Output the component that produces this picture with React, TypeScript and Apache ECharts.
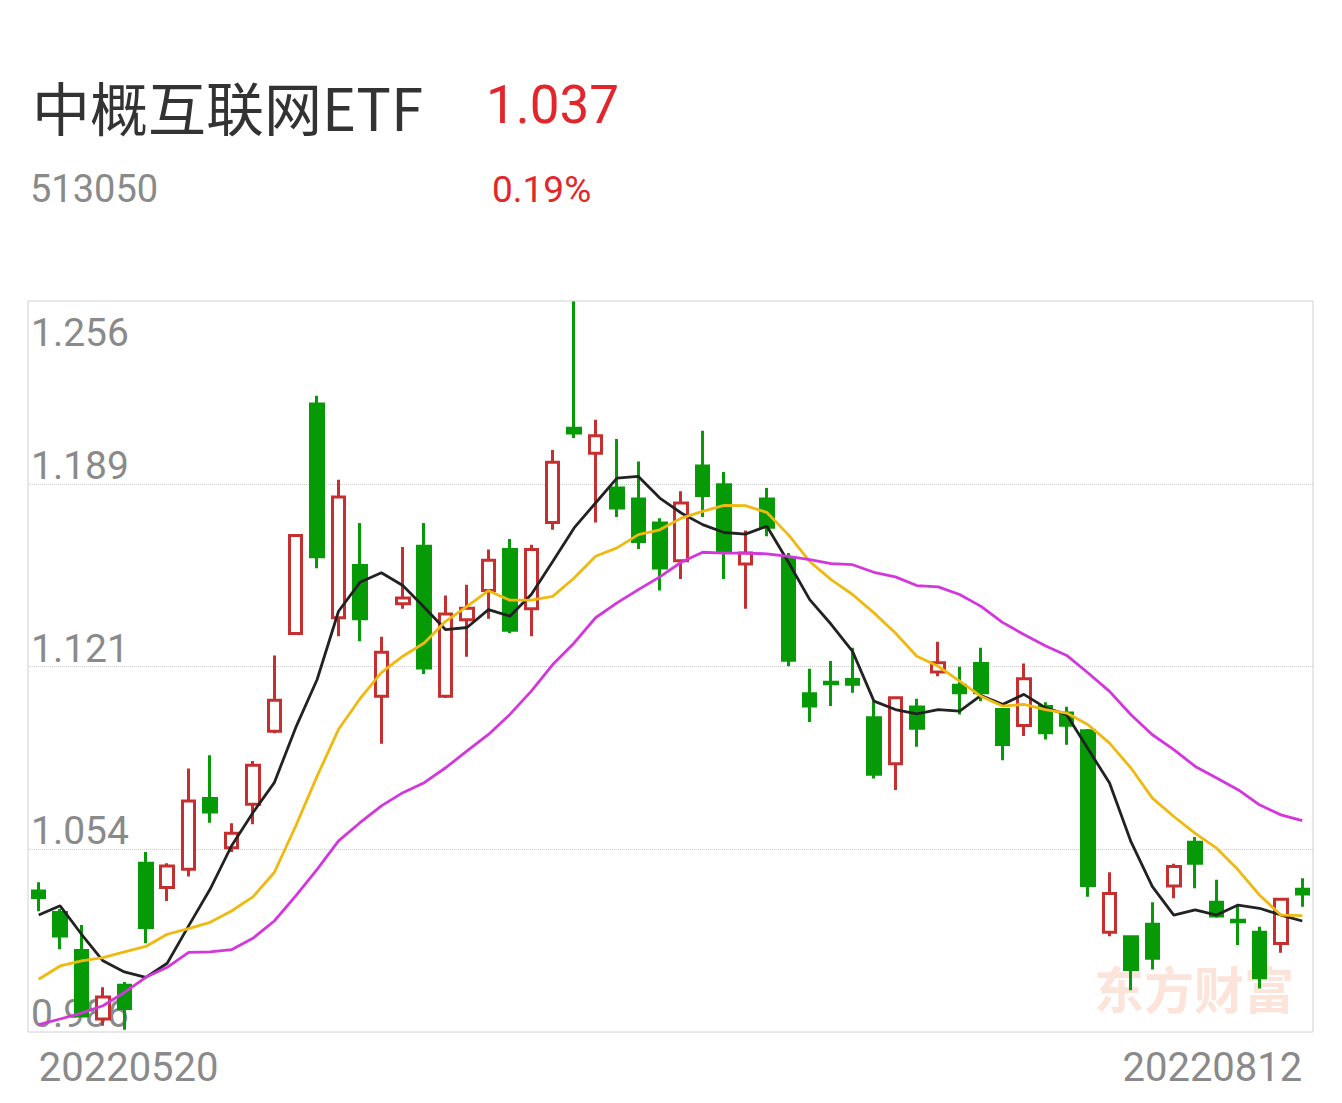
import React, { useEffect, useRef } from "react";
import * as echarts from "echarts";

const stockName = "中概互联网ETF";
const stockCode = "513050";
const lastPrice = "1.037";
const changePct = "0.19%";
const watermark = "东方财富";

const dates = [
  "20220520",
  "20220523", "20220524", "20220525", "20220526", "20220527",
  "20220530", "20220531",
  "20220601", "20220602",
  "20220606", "20220607", "20220608", "20220609", "20220610",
  "20220613", "20220614", "20220615", "20220616", "20220617",
  "20220620", "20220621", "20220622", "20220623", "20220624",
  "20220627", "20220628", "20220629", "20220630",
  "20220701",
  "20220704", "20220705", "20220706", "20220707", "20220708",
  "20220711", "20220712", "20220713", "20220714", "20220715",
  "20220718", "20220719", "20220720", "20220721", "20220722",
  "20220725", "20220726", "20220727", "20220728", "20220729",
  "20220801", "20220802", "20220803", "20220804", "20220805",
  "20220808", "20220809", "20220810", "20220811", "20220812",
];

const openPrices = [
  1.0381, 1.0301, 1.0161, 0.9908, 1.0033, 1.0483, 1.0394, 1.0461, 1.0722, 1.0541,
  1.0701, 1.0971, 1.1332, 1.218, 1.139, 1.1583, 1.11, 1.1442, 1.1654, 1.11,
  1.1383, 1.1491, 1.1642, 1.1423, 1.1742, 1.209, 1.1998, 1.1869, 1.1829, 1.174,
  1.1601, 1.1951, 1.1881, 1.1589, 1.1829, 1.1613, 1.1109, 1.1152, 1.1162, 1.1021,
  1.0851, 1.106, 1.119, 1.1141, 1.1221, 1.1051, 1.0992, 1.1062, 1.1038, 1.0973,
  1.0228, 1.0212, 1.0258, 1.0399, 1.0561, 1.0339, 1.0273, 1.0228, 1.0187, 1.0387,
];

const closePrices = [
  1.0357, 1.0215, 0.9919, 0.9989, 0.9947, 1.0246, 1.0473, 1.0713, 1.0673, 1.0594,
  1.0845, 1.1085, 1.1694, 1.1615, 1.1836, 1.1386, 1.1263, 1.1463, 1.1204, 1.1404,
  1.1425, 1.1602, 1.1344, 1.1642, 1.1964, 1.2072, 1.2062, 1.1795, 1.1672, 1.1574,
  1.1814, 1.1842, 1.1635, 1.1629, 1.1724, 1.1233, 1.1064, 1.1146, 1.1144, 1.0812,
  1.1095, 1.0982, 1.1224, 1.1113, 1.1113, 1.0922, 1.1165, 1.0965, 1.0993, 1.0401,
  1.0372, 1.0091, 1.0132, 1.0471, 1.0483, 1.0288, 1.0267, 1.006, 1.035, 1.037,
];

const lowPrices = [
  1.0306, 1.0166, 0.9915, 0.9883, 0.9868, 1.0188, 1.0344, 1.0434, 1.0633, 1.0525,
  1.0627, 1.0963, 1.133, 1.1573, 1.1322, 1.1303, 1.0925, 1.1423, 1.1182, 1.1094,
  1.1246, 1.1386, 1.1334, 1.1322, 1.1715, 1.2054, 1.1742, 1.1762, 1.1644, 1.1491,
  1.1533, 1.1762, 1.1533, 1.1423, 1.1691, 1.1211, 1.1005, 1.1064, 1.1113, 1.0796,
  1.0754, 1.0914, 1.1174, 1.1033, 1.1082, 1.0864, 1.0953, 1.094, 1.0921, 1.036,
  1.0214, 1.0014, 1.0091, 1.0354, 1.0391, 1.0282, 1.0181, 1.0021, 1.0153, 1.0323,
];

const highPrices = [
  1.0413, 1.0314, 1.0255, 1.0025, 1.0045, 1.0525, 1.0483, 1.0833, 1.0882, 1.0631,
  1.0861, 1.1251, 1.1699, 1.221, 1.19, 1.174, 1.132, 1.1651, 1.174, 1.1472,
  1.1512, 1.1642, 1.1681, 1.166, 1.201, 1.256, 1.2121, 1.205, 1.1967, 1.1758,
  1.1857, 1.2081, 1.1928, 1.1712, 1.1869, 1.1629, 1.1202, 1.123, 1.1279, 1.1082,
  1.11, 1.1091, 1.1301, 1.1209, 1.1279, 1.1055, 1.1221, 1.1078, 1.1061, 1.0979,
  1.045, 1.0216, 1.0339, 1.0481, 1.058, 1.0422, 1.0329, 1.0249, 1.0356, 1.0428,
];

const ma5 = [
  1.0292, 1.0326, 1.0221, 1.0123, 1.0082, 1.0062, 1.0114, 1.0252, 1.0387, 1.0547,
  1.067, 1.0781, 1.0984, 1.1162, 1.1414, 1.1521, 1.1556, 1.1509, 1.1429, 1.1346,
  1.1354, 1.142, 1.1396, 1.1476, 1.1598, 1.1722, 1.1814, 1.1906, 1.1912, 1.1832,
  1.1777, 1.1734, 1.1705, 1.1699, 1.1728, 1.1596, 1.1457, 1.1366, 1.1266, 1.1082,
  1.1051, 1.1035, 1.1051, 1.1045, 1.1103, 1.107, 1.1107, 1.1058, 1.1032, 1.0905,
  1.078, 1.0563, 1.0397, 1.0292, 1.0311, 1.0292, 1.0329, 1.0317, 1.0292, 1.027,
];

const ma10 = [
  1.0055, 1.0104, 1.0123, 1.0135, 1.0156, 1.0176, 1.0221, 1.0242, 1.0265, 1.0307,
  1.0359, 1.0449, 1.0621, 1.0805, 1.0978, 1.1091, 1.1187, 1.1248, 1.1297, 1.1377,
  1.1432, 1.149, 1.1455, 1.1455, 1.1469, 1.1537, 1.1617, 1.1648, 1.1697, 1.1715,
  1.1758, 1.1783, 1.1805, 1.1804, 1.1779, 1.1697, 1.1598, 1.1531, 1.1476, 1.1408,
  1.1334, 1.1248, 1.1211, 1.1156, 1.11, 1.1064, 1.107, 1.1051, 1.1038, 1.0995,
  1.0927, 1.0835, 1.0724, 1.0656, 1.0594, 1.0539, 1.0459, 1.0366, 1.0292, 1.029,
];

const ma20 = [
  0.9887, 0.9908, 0.993, 0.9957, 1.0006, 1.0062, 1.0099, 1.0154, 1.0156, 1.0164,
  1.0206, 1.027, 1.0363, 1.0461, 1.0566, 1.0633, 1.0695, 1.0744, 1.0781, 1.0836,
  1.0898, 1.0959, 1.1033, 1.1119, 1.1217, 1.1297, 1.139, 1.1445, 1.1494, 1.1541,
  1.1595, 1.1632, 1.1629, 1.1629, 1.1626, 1.1617, 1.1605, 1.159, 1.1586, 1.1558,
  1.1541, 1.1509, 1.1504, 1.1476, 1.1432, 1.1373, 1.1328, 1.1287, 1.1251, 1.1186,
  1.1118, 1.1032, 1.0958, 1.0903, 1.0841, 1.0798, 1.0755, 1.0699, 1.0662, 1.0641,
];

const yTickLabels = ["0.986", "1.054", "1.121", "1.189", "1.256"];
const yMin = 0.986;
const yMax = 1.256;

const RED = "#c62f2f";
const GREEN = "#079a07";
const GRAY = "#8a8a8a";
const NUM_FONT = 'Roboto, "Noto Sans CJK SC", sans-serif';
const CJK_FONT = '"Noto Sans CJK SC", Roboto, sans-serif';

export default function App() {
  const ref = useRef<HTMLDivElement>(null);

  useEffect(() => {
    if (!ref.current) return;
    const chart = echarts.init(ref.current, undefined, { renderer: "svg" });
    const candles = dates.map((_, i) => [openPrices[i], closePrices[i], lowPrices[i], highPrices[i]]);
    const lastIdx = dates.length - 1;
    const topIdx = yTickLabels.length - 1;
    const splitColors = yTickLabels.map((_, i) => (i === 0 || i === topIdx ? "rgba(0,0,0,0)" : "#cccccc"));

    chart.setOption({
      animation: false,
      backgroundColor: "#ffffff",
      graphic: [
        {
          type: "text",
          x: 32,
          y: 106,
          style: { text: stockName, font: `58px ${CJK_FONT}`, fill: "#333333", verticalAlign: "middle" },
        },
        {
          type: "text",
          x: 486,
          y: 105,
          style: { text: lastPrice, font: `53px ${NUM_FONT}`, fill: "#e3262b", verticalAlign: "middle" },
        },
        {
          type: "text",
          x: 30,
          y: 189,
          style: { text: stockCode, font: `38px ${NUM_FONT}`, fill: GRAY, verticalAlign: "middle" },
        },
        {
          type: "text",
          x: 492,
          y: 189,
          style: { text: changePct, font: `37px ${NUM_FONT}`, fill: "#e3262b", verticalAlign: "middle" },
        },
        {
          type: "text",
          x: 1094,
          y: 987,
          z: 0,
          style: {
            text: watermark,
            font: `bold 50px ${CJK_FONT}`,
            fill: "#fce4da",
            verticalAlign: "middle",
          },
        },
      ],
      grid: {
        left: 28,
        top: 301,
        right: 29,
        bottom: 71,
        show: true,
        borderColor: "#d0d0d0",
        borderWidth: 1,
        backgroundColor: "transparent",
        z: 6,
      },
      xAxis: {
        type: "category",
        data: dates,
        boundaryGap: true,
        axisLine: { show: false },
        axisTick: { show: false },
        splitLine: { show: false },
        axisLabel: {
          interval: (i: number) => i === 0 || i === lastIdx,
          color: GRAY,
          fontSize: 40,
          fontFamily: NUM_FONT,
          margin: 15,
          alignMinLabel: "left",
          alignMaxLabel: "right",
        },
      },
      yAxis: [
        {
          type: "value",
          min: yMin,
          max: yMax,
          show: false,
          splitLine: { show: false },
        },
        {
          type: "value",
          min: 0,
          max: topIdx,
          interval: 1,
          position: "left",
          axisLine: { show: false },
          axisTick: { show: false },
          splitLine: { show: true, lineStyle: { type: "dotted", color: splitColors, width: 1 } },
          axisLabel: {
            inside: true,
            margin: 3,
            verticalAlign: "middle",
            formatter: (v: number) => {
              const i = Math.round(v);
              const t = yTickLabels[i];
              return i === topIdx ? `{g| }\n{v|${t}}` : `{v|${t}}\n{h| }`;
            },
            rich: {
              v: { fontSize: 39, lineHeight: 36, color: GRAY, fontFamily: NUM_FONT },
              g: { fontSize: 10, lineHeight: 64 },
              h: { fontSize: 10, lineHeight: 36 },
            },
          },
        },
      ],
      series: [
        {
          type: "candlestick",
          data: candles,
          yAxisIndex: 0,
          barWidth: 13,
          silent: true,
          z: 3,
          itemStyle: {
            color: "#ffffff",
            color0: GREEN,
            borderColor: RED,
            borderColor0: GREEN,
            borderWidth: 3,
          },
        },
        {
          type: "line",
          data: ma5,
          yAxisIndex: 0,
          symbol: "none",
          silent: true,
          z: 4,
          lineStyle: { color: "#222222", width: 2.8 },
        },
        {
          type: "line",
          data: ma10,
          yAxisIndex: 0,
          symbol: "none",
          silent: true,
          z: 4,
          lineStyle: { color: "#f0b90f", width: 2.8 },
        },
        {
          type: "line",
          data: ma20,
          yAxisIndex: 0,
          symbol: "none",
          silent: true,
          z: 4,
          lineStyle: { color: "#d436de", width: 2.8 },
        },
      ],
    });

    return () => chart.dispose();
  }, []);

  return (
    <div
      ref={ref}
      style={{ position: "fixed", left: 0, top: 0, width: 1342, height: 1103, background: "#ffffff" }}
    />
  );
}
